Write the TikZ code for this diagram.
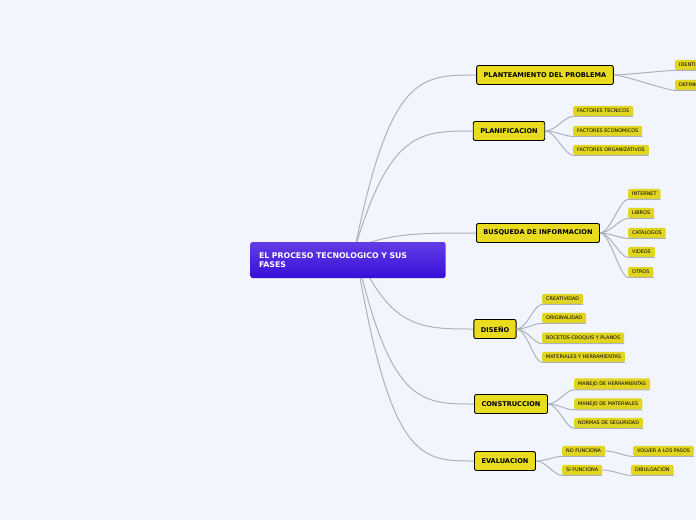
\documentclass[tikz,border=0pt]{standalone}
\usepackage{fontspec}
\setmainfont{DejaVu Sans}
\usetikzlibrary{backgrounds}
\definecolor{bg}{HTML}{F2F5FE}
\definecolor{leafy}{HTML}{E2D51F}
\definecolor{mainy}{HTML}{E9DC1E}
\definecolor{lnk}{HTML}{ADB1BA}
\begin{document}
\begin{tikzpicture}[x=1pt,y=-1pt,
 mainbox/.style={draw=black,line width=0.9pt,fill=mainy,rounded corners=2pt,font=\bfseries\fontsize{6.6}{7}\selectfont,minimum height=19pt,inner xsep=7pt},
 leaf/.style={fill=leafy,rounded corners=1.5pt,font=\fontsize{4.9}{5}\selectfont,minimum height=10pt,inner xsep=4pt,anchor=west},
 lk/.style={draw=lnk,line width=1pt}]
\clip (0,0) rectangle (696,520);
\node[shade,top color={rgb,255:red,100;green,60;blue,230},bottom color={rgb,255:red,55;green,15;blue,215},rounded corners=2pt,minimum width=195pt,minimum height=36pt,text width=178pt,align=left,text=white,font=\bfseries\fontsize{7.8}{9.5}\selectfont] (root) at (348,260) {EL PROCESO TECNOLOGICO Y SUS\\FASES};
\coordinate (o) at (355,248);
\node[mainbox] (m1) at (545,75) {PLANTEAMIENTO DEL PROBLEMA};
\node[mainbox] (m2) at (509,131) {PLANIFICACION};
\node[mainbox] (m3) at (538,233) {BUSQUEDA DE INFORMACION};
\node[mainbox] (m4) at (495,329) {DISEÑO};
\node[mainbox] (m5) at (511,404) {CONSTRUCCION};
\node[mainbox] (m6) at (505,461) {EVALUACION};
\begin{scope}[on background layer]
\fill[bg] (0,0) rectangle (696,520);
\foreach \m in {m1,m2,m3,m4,m5,m6}
  \draw[lk] (o) .. controls (390,255 |- \m.west) and (420,0 |- \m.west) .. (\m.west);
\end{scope}
\node[leaf] (a1) at (675,65) {IDENTIFICACION DEL PROBLEMA};
\node[leaf] (a2) at (675,85) {DEFINICION DEL PROBLEMA};
\node[leaf] (b1) at (573,111) {FACTORES TECNICOS};
\node[leaf] (b2) at (573,131) {FACTORES ECONOMICOS};
\node[leaf] (b3) at (573,150) {FACTORES ORGANIZATIVOS};
\node[leaf] (c1) at (628,194) {INTERNET};
\node[leaf] (c2) at (628,213) {LIBROS};
\node[leaf] (c3) at (628,233) {CATALOGOS};
\node[leaf] (c4) at (628,252) {VIDEOS};
\node[leaf] (c5) at (628,272) {OTROS};
\node[leaf] (d1) at (542,299) {CREATIVIDAD};
\node[leaf] (d2) at (542,318) {ORIGINALIDAD};
\node[leaf] (d3) at (542,338) {BOCETOS-CROQUIS Y PLANOS};
\node[leaf] (d4) at (542,357) {MATERIALES Y HERRAMIENTAS};
\node[leaf] (e1) at (574,384) {MANEJO DE HERRAMIENTAS};
\node[leaf] (e2) at (574,404) {MANEJO DE MATERIALES};
\node[leaf] (e3) at (574,423) {NORMAS DE SEGURIDAD};
\node[leaf] (f1) at (562,451) {NO FUNCIONA};
\node[leaf] (f2) at (562,470) {SI FUNCIONA};
\node[leaf] (g1) at (633,451) {VOLVER A LOS PASOS};
\node[leaf] (g2) at (631,470) {DIBULGACION};
\foreach \p/\l in {m1/a1,m1/a2,m2/b1,m2/b2,m2/b3,m3/c1,m3/c2,m3/c3,m3/c4,m3/c5,m4/d1,m4/d2,m4/d3,m4/d4,m5/e1,m5/e2,m5/e3,m6/f1,m6/f2,f1/g1,f2/g2}
  \draw[lk] (\p.east) .. controls ([xshift=10pt]\p.east) and ([xshift=-8pt]\l.south west) .. (\l.south west) -- (\l.south east);
\end{tikzpicture}
\end{document}
